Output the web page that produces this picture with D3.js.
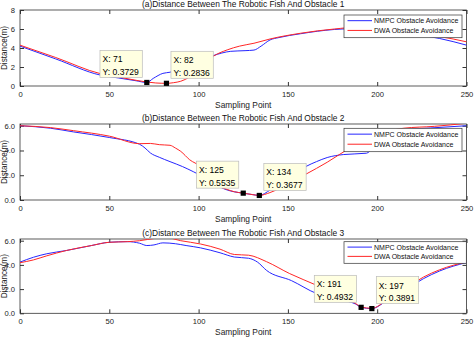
<!DOCTYPE html>
<html>
<head>
<meta charset="utf-8">
<script src="https://cdn.jsdelivr.net/npm/d3@7"></script>
<style>
  body { margin: 0; background: #fff; }
  svg { display: block; font-family: "Liberation Sans", Arial, sans-serif; }
</style>
</head>
<body>
<div id="chart"></div>
<script>
// ---- data: [sampling point, distance (m)] ----
const xTicks = [0, 50, 100, 150, 200, 250];
const seriesNames = ["NMPC Obstacle Avoidance", "DWA Obstacle Avoidance"];
const titles = [
  "(a)Distance Between The Robotic Fish And Obstacle 1",
  "(b)Distance Between The Robotic Fish And Obstacle 2",
  "(c)Distance Between The Robotic Fish And Obstacle 3"
];
const yTicks1 = [0, 2, 4, 6, 8];
const yTicks2 = [0, 2, 4, 6];
const yTicks3 = [0, 2, 4, 6];

const nmpc1 = [[0,4.2],[20,2.85],[45,1.15],[55,0.85],[65,0.55],[71,0.37],[74.6,0.8],[80,1.33],[84,1.45],[92,2.05],[100,2.65],[108,3.19],[118,3.65],[126,3.72],[131,3.78],[135,4.2],[140,4.85],[145,5.1],[157,5.5],[176,5.95],[190,6.05],[205,5.85],[215,5.6],[224,5.35],[235,5.0],[250,4.3]];
const dwa1 = [[0,4.3],[20,3.0],[45,1.3],[55,0.95],[65,0.6],[71,0.42],[76,0.32],[82,0.28],[86,0.35],[90,0.5],[95,0.95],[100,1.7],[104,2.5],[108,3.1],[116,3.8],[123,4.2],[131,4.5],[140,4.95],[157,5.55],[176,6.0],[190,6.2],[205,6.1],[215,5.8],[224,5.45],[235,5.2],[250,4.65]];

const nmpc2 = [[0,6.0],[17,5.8],[30,5.5],[50,5.05],[67,4.5],[70,4.2],[73,3.8],[78,3.45],[84,3.1],[91,2.7],[97,2.29],[101,2.0],[108,1.35],[116,0.81],[120,0.66],[125,0.55],[130,0.44],[134,0.37],[140,0.8],[150,1.75],[160,2.7],[166,3.1],[172,3.43],[181,3.67],[194,3.78],[198,4.3],[202,5.2],[210,5.6],[230,5.82],[250,6.0]];
const dwa2 = [[0,6.0],[17,5.85],[30,5.6],[50,5.16],[67,4.55],[73,4.57],[78,4.47],[84,4.42],[87,4.2],[90,3.93],[95,3.25],[101,2.7],[106,1.8],[111,1.15],[116,0.85],[120,0.67],[125,0.55],[130,0.44],[134,0.37],[140,0.6],[150,1.3],[160,2.08],[172,3.05],[183,4.05],[200,5.3],[215,5.8],[232,5.95],[250,6.2]];

const nmpc3 = [[0,4.23],[7.5,4.63],[15,4.92],[26,5.19],[40,5.6],[50,5.87],[60,5.92],[67,5.79],[71,5.6],[75,5.65],[80,5.82],[87,5.75],[93,5.6],[101,5.41],[112,5.0],[120,4.65],[128,4.55],[133,4.23],[138,3.55],[152,2.7],[166,1.64],[178,1.15],[188,0.76],[191,0.49],[197,0.39],[205,1.0],[215,1.85],[226,2.87],[235,3.5],[250,4.2]];
const dwa3 = [[0,4.18],[7.5,4.41],[15,4.75],[26,5.19],[40,5.6],[50,5.87],[60,5.92],[67,6.0],[76,6.2],[82,6.25],[90,6.0],[101,5.73],[112,5.3],[120,4.86],[128,4.8],[138,4.27],[151,3.28],[166,2.32],[178,1.5],[188,0.8],[191,0.52],[197,0.41],[205,1.05],[215,1.95],[226,3.0],[235,3.6],[250,4.25]];

// data tips shown on the figure
const tips1 = [{x: 71, y: 0.3729, side: "left"}, {x: 82, y: 0.2836, side: "right"}];
const tips2 = [{x: 125, y: 0.5535, side: "left"}, {x: 134, y: 0.3677, side: "right"}];
const tips3 = [{x: 191, y: 0.4932, side: "left"}, {x: 197, y: 0.3891, side: "right"}];

// ---- layout ----
const W = 474, H = 352;
const left = 20, right = 466.5;
const colors = ["#2626ff", "#ff2626"];

const panels = [
  {title: titles[0], nmpc: nmpc1, dwa: dwa1, tips: tips1, yTicks: yTicks1, yMax: 8,    top: 10,  bottom: 86,    legend: {x: 344, y: 15,    w: 118, h: 22.7}},
  {title: titles[1], nmpc: nmpc2, dwa: dwa2, tips: tips2, yTicks: yTicks2, yMax: 6.14, top: 124, bottom: 200,   legend: {x: 344, y: 128.3, w: 118, h: 23.4}},
  {title: titles[2], nmpc: nmpc3, dwa: dwa3, tips: tips3, yTicks: yTicks3, yMax: 6.14, top: 239, bottom: 313.3, legend: {x: 344, y: 241.7, w: 122.3, h: 21.6}}
];

const svg = d3.select("#chart").append("svg")
  .attr("width", W)
  .attr("height", H);

const x = d3.scaleLinear().domain([0, 250]).range([left, right]);

panels.forEach((p, i) => {
  const y = d3.scaleLinear().domain([0, p.yMax]).range([p.bottom, p.top]);
  const g = svg.append("g");

  // clip the curves to the axes box
  const clipId = "clip" + i;
  svg.append("clipPath").attr("id", clipId)
    .append("rect")
    .attr("x", left).attr("y", p.top)
    .attr("width", right - left).attr("height", p.bottom - p.top);

  // axes, ticks inward on all four sides
  const axisStyle = a => {
    a.select(".domain").remove();
    a.selectAll(".tick line").attr("stroke", "#333");
    a.selectAll(".tick text").attr("fill", "#222").style("font-size", "7.6px").style("font-family", "inherit");
  };
  g.append("g").attr("transform", `translate(0,${p.bottom})`)
    .call(d3.axisBottom(x).tickValues(xTicks).tickSize(-4).tickPadding(5.5))
    .call(axisStyle);
  g.append("g").attr("transform", `translate(0,${p.top})`)
    .call(d3.axisTop(x).tickValues(xTicks).tickSize(-4).tickFormat(""))
    .call(axisStyle);
  g.append("g").attr("transform", `translate(${left},0)`)
    .call(d3.axisLeft(y).tickValues(p.yTicks).tickSize(-4).tickPadding(5))
    .call(axisStyle);
  g.append("g").attr("transform", `translate(${right},0)`)
    .call(d3.axisRight(y).tickValues(p.yTicks).tickSize(-4).tickFormat(""))
    .call(axisStyle);
  g.append("rect")
    .attr("x", left).attr("y", p.top)
    .attr("width", right - left).attr("height", p.bottom - p.top)
    .attr("fill", "none").attr("stroke", "#333").attr("stroke-width", 0.8);

  // curves
  const line = d3.line()
    .x(d => x(d[0]))
    .y(d => y(d[1]))
    .curve(d3.curveMonotoneX);
  const lines = g.append("g").attr("clip-path", `url(#${clipId})`);
  [p.nmpc, p.dwa].forEach((s, k) => {
    lines.append("path")
      .attr("d", line(s))
      .attr("fill", "none")
      .attr("stroke", colors[k])
      .attr("stroke-width", 1);
  });

  // title and labels
  g.append("text")
    .attr("x", (left + right) / 2).attr("y", p.top - 2.8)
    .attr("text-anchor", "middle")
    .style("font-size", "8.4px").attr("fill", "#111")
    .text(p.title);
  g.append("text")
    .attr("x", (left + right) / 2).attr("y", p.bottom + 22)
    .attr("text-anchor", "middle")
    .style("font-size", "8.4px").attr("fill", "#222")
    .text("Sampling Point");
  g.append("text")
    .attr("transform", `translate(7,${(p.top + p.bottom) / 2}) rotate(-90)`)
    .attr("text-anchor", "middle")
    .style("font-size", "8.2px").attr("fill", "#222")
    .text("Distance(m)");

  // legend
  const lg = g.append("g").attr("transform", `translate(${p.legend.x},${p.legend.y})`);
  lg.append("rect")
    .attr("width", p.legend.w).attr("height", p.legend.h)
    .attr("fill", "#fff").attr("stroke", "#333").attr("stroke-width", 0.7);
  seriesNames.forEach((name, k) => {
    const yy = p.legend.h * (k === 0 ? 0.25 : 0.68);
    lg.append("line")
      .attr("x1", 3.5).attr("x2", 28).attr("y1", yy).attr("y2", yy)
      .attr("stroke", colors[k]).attr("stroke-width", 1);
    lg.append("text")
      .attr("x", 30).attr("y", yy + 2.5)
      .style("font-size", "7px").attr("fill", "#111")
      .text(name);
  });

  // data tips
  p.tips.forEach(t => {
    const mx = x(t.x), my = y(t.y);
    const tg = g.append("g");
    const box = tg.append("rect")
      .attr("fill", "#ffffe1").attr("stroke", "#bbb").attr("stroke-width", 0.7);
    const t1 = tg.append("text").style("font-size", "8.6px").attr("fill", "#000").text(`X: ${t.x}`);
    const t2 = tg.append("text").style("font-size", "8.6px").attr("fill", "#000").text(`Y: ${t.y}`);
    const bw = Math.max(t1.node().getComputedTextLength(), t2.node().getComputedTextLength()) + 6;
    const bh = 27;
    const bx = t.side === "left" ? mx - 4.5 - bw : mx + 4.5;
    const by = my - 5 - bh;
    box.attr("x", bx).attr("y", by).attr("width", bw).attr("height", bh);
    t1.attr("x", bx + 2.5).attr("y", by + 12);
    t2.attr("x", bx + 2.5).attr("y", by + 24.5);
    tg.append("rect")
      .attr("x", mx - 2.6).attr("y", my - 2.6)
      .attr("width", 5.2).attr("height", 5.2)
      .attr("fill", "#000");
  });
});
</script>
</body>
</html>
